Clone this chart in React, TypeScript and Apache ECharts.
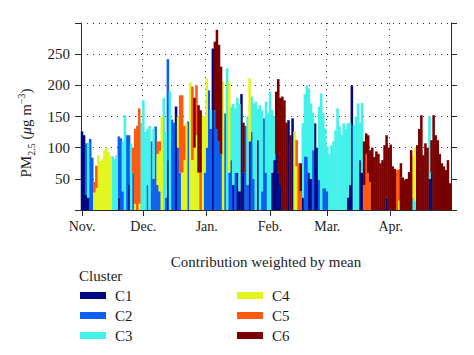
import React, { useEffect, useRef } from "react";
import * as echarts from "echarts";

const FONT = '"Liberation Serif", "Times New Roman", serif';
const TXT = "#1c1c1c";
const AX = "#2a2a2a";

const clusters = ["C1", "C2", "C3", "C4", "C5", "C6"];
const clusterColors = ["#000A80", "#0D5EF2", "#40F2EA", "#E2F51E", "#FF5A12", "#7A0000"];
const monthNames = ["Nov.", "Dec.", "Jan.", "Feb.", "Mar.", "Apr."];
const monthDays = [30, 31, 31, 28, 31, 30];
const yTickStep = 50;
const yMax = 300;

// Each day: "cluster:height" segments of the stacked daily bar (µg m^-3)
const nov = [
  "1:126", "1:120", "1:25 2:82", "1:20 3:88", "2:114", "2:84", "4:28 5:17", "4:35 5:36",
  "4:88", "4:78", "4:82", "4:96", "4:101", "4:93", "4:86", "3:86", "3:82", "3:88",
  "1:20 2:98", "2:115", "2:30 3:80", "3:152", "2:120", "1:40 2:80", "3:107", "2:60 5:40",
  "4:10 5:120", "5:135", "4:10 5:153", "3:140",
];
const dec = [
  "3:176", "3:125", "2:40 3:90", "3:135", "2:110", "2:50 3:80", "2:134", "2:40 4:50 5:20",
  "2:30 4:65 5:15", "4:150", "3:180", "2:20 3:105", "1:80 2:162", "3:190", "2:145", "2:140",
  "1:166", "2:100 4:50", "2:60 5:124", "4:60 5:124", "4:80 5:55", "4:140", "2:142", "4:205",
  "4:80 5:118", "4:100 6:80", "4:120 5:80", "4:60 6:108", "5:60 6:100", "4:152", "2:60 4:90",
];
const jan = [
  "2:100 4:111", "2:192", "2:130 3:30", "1:259", "2:160 6:110", "2:130 6:159", "2:110 6:155",
  "2:90 6:140", "4:206", "2:155", "3:227", "2:60 4:146", "2:80 3:86", "1:40 3:130", "2:60 3:103",
  "1:60 3:120", "1:30 3:140", "1:186", "1:60 6:80", "2:135", "2:40 3:110", "1:110 4:101",
  "2:125 3:57", "2:50 3:121", "3:174", "1:112 3:50", "3:168", "2:30 3:130", "2:147",
  "2:60 3:114", "3:155",
];
const feb = [
  "3:190", "1:60 3:100", "1:80 3:70", "1:90 6:100", "1:60 6:150", "1:40 6:140", "6:182",
  "6:176", "6:140", "1:144", "6:120", "1:147", "4:126", "4:70 5:42", "5:75", "5:30 6:45",
  "1:20 3:119", "2:86 3:100", "2:86 3:114", "1:60 3:135", "1:50 3:121", "2:96 3:60", "1:139",
  "1:100", "2:48 3:118", "3:187", "2:35 3:120", "2:35 3:96",
];
const mar = [
  "2:30 3:72", "3:90", "3:104", "3:110", "3:128", "3:163", "3:134", "3:120", "3:139", "3:130",
  "1:20 3:119", "1:40 3:100", "1:200", "3:136", "3:150", "3:171", "1:80 3:60", "1:60 3:112",
  "5:40 6:70", "5:90 6:33", "5:59 6:61", "5:45 6:51", "6:100", "6:85", "6:94", "6:90", "6:75",
  "6:80", "6:104", "1:20 6:100", "6:100",
];
const apr = [
  "6:105", "6:70", "6:66", "5:64", "4:15 5:50", "6:75", "6:52", "6:48", "6:50", "6:61", "6:96",
  "3:20 4:66", "3:15 4:85", "6:104", "6:130", "6:152", "6:88", "6:107", "6:100", "1:50 3:100",
  "1:60 6:52", "6:152", "6:120", "6:112", "6:90", "6:75", "6:70", "6:64", "6:80", "6:43",
];

const allDays = [...nov, ...dec, ...jan, ...feb, ...mar, ...apr];

const categories: string[] = [];
const monthStarts: number[] = [];
monthNames.forEach((m, mi) => {
  monthStarts.push(categories.length);
  for (let d = 1; d <= monthDays[mi]; d++) categories.push(m + " " + d);
});

// per-day segment heights for each cluster
const segHeights = allDays.map((day) => {
  const h = [0, 0, 0, 0, 0, 0];
  day.split(" ").forEach((s) => {
    const [c, v] = s.split(":");
    h[Number(c) - 1] = Number(v);
  });
  return h;
});

// stacked [dayIndex, base, top] per cluster
const stackedData = clusters.map((_, ci) => {
  const out: number[][] = [];
  segHeights.forEach((h, di) => {
    if (h[ci] <= 0) return;
    let base = 0;
    for (let k = 0; k < ci; k++) base += h[k];
    out.push([di, base, base + h[ci]]);
  });
  return out;
});

export default function App() {
  const ref = useRef<HTMLDivElement>(null);
  useEffect(() => {
    const chart = echarts.init(ref.current!, null, { renderer: "svg" });
    const tickInterval = (i: number) => monthStarts.includes(i);
    const renderItem = (params: any, api: any) => {
      const x = api.value(0);
      const p0 = api.coord([x, api.value(1)]);
      const p1 = api.coord([x, api.value(2)]);
      const w = api.size([1, 0])[0];
      return {
        type: "rect",
        shape: { x: p0[0] - w / 2 - 0.25, y: p1[1], width: w + 0.5, height: p0[1] - p1[1] },
        style: { fill: api.visual("color") },
      };
    };
    const option: any = {
      animation: false,
      backgroundColor: "#ffffff",
      grid: { left: 81, right: 23, top: 23, bottom: 145 },
      title: {
        text: "Cluster",
        left: 79,
        top: 268,
        padding: 0,
        textStyle: { fontFamily: FONT, fontSize: 15, fontWeight: "normal", color: TXT },
      },
      legend: [
        {
          data: clusters.slice(0, 3),
          orient: "vertical",
          left: 80,
          top: 288,
          padding: 0,
          itemWidth: 26,
          itemHeight: 7,
          itemGap: 5,
          icon: "rect",
          selectedMode: false,
          textStyle: { fontFamily: FONT, fontSize: 15, color: TXT, padding: [0, 0, 0, 4] },
        },
        {
          data: clusters.slice(3),
          orient: "vertical",
          left: 237,
          top: 288,
          padding: 0,
          itemWidth: 26,
          itemHeight: 7,
          itemGap: 5,
          icon: "rect",
          selectedMode: false,
          textStyle: { fontFamily: FONT, fontSize: 15, color: TXT, padding: [0, 0, 0, 4] },
        },
      ],
      xAxis: [
        {
          type: "category",
          data: categories,
          boundaryGap: true,
          axisLine: { show: true, lineStyle: { color: AX, width: 1 } },
          axisTick: {
            show: true,
            alignWithLabel: true,
            interval: tickInterval,
            length: 6,
            lineStyle: { color: AX },
          },
          axisLabel: {
            interval: tickInterval,
            formatter: (v: string) => v.split(" ")[0],
            fontFamily: FONT,
            fontSize: 14,
            color: TXT,
            margin: 9,
          },
          splitLine: {
            show: true,
            interval: (i: number) => i > 0 && monthStarts.includes(i),
            lineStyle: { color: "#333", width: 1, type: [1, 5] },
          },
          name: "Contribution weighted by mean",
          nameLocation: "middle",
          nameGap: 44,
          nameTextStyle: { fontFamily: FONT, fontSize: 15, color: TXT },
        },
        {
          type: "category",
          position: "top",
          data: categories,
          boundaryGap: true,
          axisLine: { show: true, lineStyle: { color: AX, width: 1 } },
          axisTick: {
            show: true,
            alignWithLabel: true,
            interval: tickInterval,
            length: 6,
            lineStyle: { color: AX },
          },
          axisLabel: { show: false },
          splitLine: { show: false },
        },
      ],
      yAxis: [
        {
          type: "value",
          min: 0,
          max: yMax,
          interval: yTickStep,
          axisLine: { show: true, lineStyle: { color: AX, width: 1 } },
          axisTick: { show: true, length: 6, lineStyle: { color: AX } },
          axisLabel: {
            formatter: (v: number) => (v === 0 || v === yMax ? "" : String(v)),
            fontFamily: FONT,
            fontSize: 15,
            color: TXT,
            margin: 11,
          },
          splitLine: { show: true, lineStyle: { color: "#333", width: 1, type: [1, 5] } },
        },
        {
          type: "value",
          position: "right",
          min: 0,
          max: yMax,
          interval: yTickStep,
          axisLine: { show: true, lineStyle: { color: AX, width: 1 } },
          axisTick: { show: true, length: 6, lineStyle: { color: AX } },
          axisLabel: { show: false },
          splitLine: { show: false },
        },
      ],
      graphic: [
        {
          type: "text",
          x: 26,
          y: 133,
          rotation: Math.PI / 2,
          style: {
            text: "{a|PM}{s|2.5}{a| (}{i|μ}{a|g m}{u|−3}{a|)}",
            align: "center",
            verticalAlign: "middle",
            fill: TXT,
            rich: {
              a: { fontFamily: FONT, fontSize: 15, lineHeight: 20, fill: TXT },
              i: { fontFamily: FONT, fontSize: 15, lineHeight: 20, fontStyle: "italic", fill: TXT },
              s: { fontFamily: FONT, fontSize: 10, lineHeight: 10, verticalAlign: "bottom", fill: TXT },
              u: { fontFamily: FONT, fontSize: 10, lineHeight: 10, verticalAlign: "top", fill: TXT },
            },
          },
        },
      ],
      series: clusters.map((name, ci) => ({
        name,
        type: "custom",
        xAxisIndex: 0,
        yAxisIndex: 0,
        renderItem,
        encode: { x: 0, y: [1, 2] },
        data: stackedData[ci],
        itemStyle: { color: clusterColors[ci] },
        silent: true,
        z: 1,
      })),
    };
    chart.setOption(option);
    return () => chart.dispose();
  }, []);
  return (
    <div
      ref={ref}
      style={{ position: "absolute", left: 0, top: 0, width: 474, height: 355, background: "#fff" }}
    />
  );
}
